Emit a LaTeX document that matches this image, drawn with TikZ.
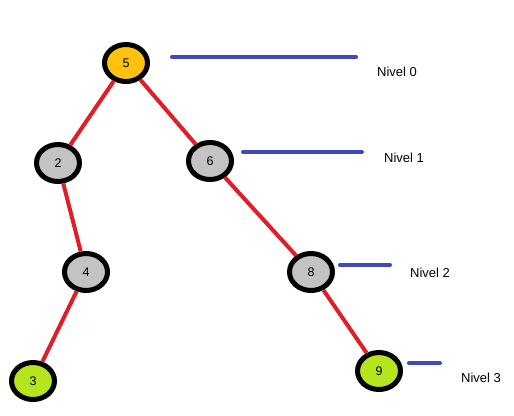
\documentclass[tikz,border=0pt]{standalone}
\usepackage{fontspec}
\setmainfont{Liberation Sans}
\usetikzlibrary{shapes.geometric}
\definecolor{pred}{RGB}{225,30,40}
\definecolor{pblue}{RGB}{63,72,190}
\definecolor{porange}{RGB}{255,194,14}
\definecolor{pgray}{RGB}{195,195,195}
\definecolor{pgreen}{RGB}{181,230,29}
\tikzset{
  treenode/.style={ellipse, draw=black, line width=5pt, minimum width=43pt, minimum height=37pt, inner sep=0pt, font=\fontsize{12.5}{14}\selectfont},
  edge/.style={draw=pred, line width=4pt},
  levelline/.style={draw=pblue, line width=4pt, line cap=round},
  levellabel/.style={font=\fontsize{13}{15}\selectfont, inner sep=0pt}
}
\begin{document}
\begin{tikzpicture}[x=1pt,y=-1pt]
\useasboundingbox (0,0) rectangle (514,415);
\fill[white] (0,0) rectangle (514,415);
% nodes
\node[treenode, fill=porange] (n5) at (126,63) {5};
\node[treenode, fill=pgray] (n2) at (58,163) {2};
\node[treenode, fill=pgray] (n6) at (210,161) {6};
\node[treenode, fill=pgray] (n4) at (86,272) {4};
\node[treenode, fill=pgray] (n8) at (311,272) {8};
\node[treenode, fill=pgreen] (n3) at (33,381) {3};
\node[treenode, fill=pgreen] (n9) at (379,371) {9};
% edges
\draw[edge] (n5) -- (n2);
\draw[edge] (n5) -- (n6);
\draw[edge] (n2) -- (n4);
\draw[edge] (n6) -- (n8);
\draw[edge] (n4) -- (n3);
\draw[edge] (n8) -- (n9);
% level lines
\coordinate (a0) at (172,57); \coordinate (b0) at (356,57);
\coordinate (a1) at (243,152); \coordinate (b1) at (362,152);
\coordinate (a2) at (340,265); \coordinate (b2) at (390,265);
\coordinate (a3) at (409,363); \coordinate (b3) at (440,363);
\draw[levelline] (a0) -- (b0);
\draw[levelline] (a1) -- (b1);
\draw[levelline] (a2) -- (b2);
\draw[levelline] (a3) -- (b3);
% labels
\node[levellabel, anchor=west] (l0) at (377,72) {Nivel 0};
\node[levellabel, anchor=west] (l1) at (384,158) {Nivel 1};
\node[levellabel, anchor=west] (l2) at (410,273) {Nivel 2};
\node[levellabel, anchor=west] (l3) at (461,378) {Nivel 3};
\end{tikzpicture}
\end{document}
